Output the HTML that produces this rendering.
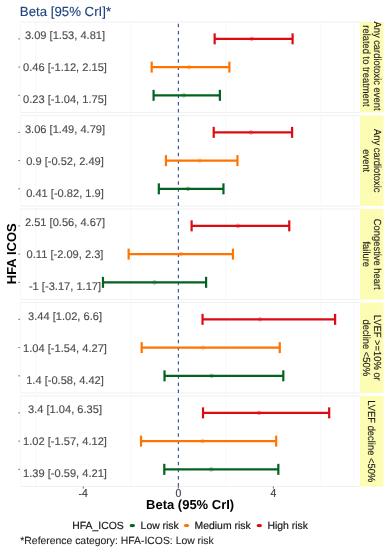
<!DOCTYPE html>
<html><head><meta charset="utf-8"><style>
html,body{margin:0;padding:0;background:#fff;}
body{width:389px;height:550px;overflow:hidden;position:relative;font-family:"Liberation Sans",Arial,sans-serif;}
svg{position:absolute;left:0;top:0;}
text{text-rendering:geometricPrecision;}
.lab{font-size:11.1px;fill:#4D4D4D;stroke:#4D4D4D;stroke-width:0.15px;}
.st{font-size:10.3px;fill:#1A1A1A;stroke:#1A1A1A;stroke-width:0.12px;}
.xl{font-size:10.5px;fill:#404040;stroke:#404040;stroke-width:0.15px;text-rendering:auto;}
.ttl{font-size:13.25px;fill:#20427F;stroke:#20427F;stroke-width:0.12px;}
.ax{font-size:13px;font-weight:bold;fill:#000;}
.fn{font-size:10.4px;fill:#1A1A1A;stroke:#1A1A1A;stroke-width:0.08px;}
.lg{font-size:10.4px;fill:#1A1A1A;stroke:#1A1A1A;stroke-width:0.2px;}
</style></head><body>
<svg width="389" height="550" viewBox="0 0 389 550">
<line x1="20.50" y1="22.00" x2="20.50" y2="112.50" stroke="#F7F7F7" stroke-width="0.9"/>
<line x1="35.74" y1="22.00" x2="35.74" y2="112.50" stroke="#F7F7F7" stroke-width="0.9"/>
<line x1="130.78" y1="22.00" x2="130.78" y2="112.50" stroke="#F7F7F7" stroke-width="0.9"/>
<line x1="225.82" y1="22.00" x2="225.82" y2="112.50" stroke="#F7F7F7" stroke-width="0.9"/>
<line x1="320.86" y1="22.00" x2="320.86" y2="112.50" stroke="#F7F7F7" stroke-width="0.9"/>
<line x1="353.80" y1="22.00" x2="353.80" y2="112.50" stroke="#F7F7F7" stroke-width="0.9"/>
<line x1="20.50" y1="22.00" x2="360.00" y2="22.00" stroke="#EFEFEF" stroke-width="0.9"/>
<line x1="20.50" y1="112.50" x2="360.00" y2="112.50" stroke="#EFEFEF" stroke-width="0.9"/>
<line x1="178.4" y1="112.50" x2="178.4" y2="22.00" stroke="#3A5B9B" stroke-width="1.2" stroke-dasharray="3.45 3.65"/>
<rect x="360.00" y="22.00" width="23.50" height="90.50" fill="#FCFCB2"/>
<text transform="translate(373.60,65.95) rotate(90) scale(0.91,1.0)" text-anchor="middle" class="st">Any cardiotoxic event</text>
<text transform="translate(362.90,65.95) rotate(90) scale(0.91,1.0)" text-anchor="middle" class="st">related to treatment</text>
<circle cx="251.72" cy="38.86" r="1.8" fill="none" stroke="#F27C7E" stroke-width="0.8"/>
<line x1="214.65" y1="38.86" x2="292.59" y2="38.86" stroke="#DE0A12" stroke-width="2.2"/>
<line x1="214.65" y1="33.36" x2="214.65" y2="44.36" stroke="#DE0A12" stroke-width="2.2"/>
<line x1="292.59" y1="33.36" x2="292.59" y2="44.36" stroke="#DE0A12" stroke-width="2.2"/>
<line x1="18.3" y1="38.86" x2="20" y2="38.86" stroke="#666" stroke-width="0.9"/>
<text transform="translate(65.00,39.15)" text-anchor="middle" class="lab">3.09 [1.53, 4.81]</text>
<circle cx="189.23" cy="67.10" r="1.8" fill="none" stroke="#FFB26B" stroke-width="0.8"/>
<line x1="151.69" y1="67.10" x2="229.38" y2="67.10" stroke="#FF7400" stroke-width="2.2"/>
<line x1="151.69" y1="61.60" x2="151.69" y2="72.60" stroke="#FF7400" stroke-width="2.2"/>
<line x1="229.38" y1="61.60" x2="229.38" y2="72.60" stroke="#FF7400" stroke-width="2.2"/>
<line x1="18.3" y1="67.10" x2="20" y2="67.10" stroke="#666" stroke-width="0.9"/>
<text transform="translate(65.00,71.35)" text-anchor="middle" class="lab">0.46 [-1.12, 2.15]</text>
<circle cx="183.76" cy="95.34" r="1.8" fill="none" stroke="#6FAE7C" stroke-width="0.8"/>
<line x1="153.59" y1="95.34" x2="219.88" y2="95.34" stroke="#03621F" stroke-width="2.2"/>
<line x1="153.59" y1="89.84" x2="153.59" y2="100.84" stroke="#03621F" stroke-width="2.2"/>
<line x1="219.88" y1="89.84" x2="219.88" y2="100.84" stroke="#03621F" stroke-width="2.2"/>
<line x1="18.3" y1="95.34" x2="20" y2="95.34" stroke="#666" stroke-width="0.9"/>
<text transform="translate(65.00,103.25)" text-anchor="middle" class="lab">0.23 [-1.04, 1.75]</text>
<line x1="20.50" y1="115.50" x2="20.50" y2="206.00" stroke="#F7F7F7" stroke-width="0.9"/>
<line x1="35.74" y1="115.50" x2="35.74" y2="206.00" stroke="#F7F7F7" stroke-width="0.9"/>
<line x1="130.78" y1="115.50" x2="130.78" y2="206.00" stroke="#F7F7F7" stroke-width="0.9"/>
<line x1="225.82" y1="115.50" x2="225.82" y2="206.00" stroke="#F7F7F7" stroke-width="0.9"/>
<line x1="320.86" y1="115.50" x2="320.86" y2="206.00" stroke="#F7F7F7" stroke-width="0.9"/>
<line x1="353.80" y1="115.50" x2="353.80" y2="206.00" stroke="#F7F7F7" stroke-width="0.9"/>
<line x1="20.50" y1="115.50" x2="360.00" y2="115.50" stroke="#EFEFEF" stroke-width="0.9"/>
<line x1="20.50" y1="206.00" x2="360.00" y2="206.00" stroke="#EFEFEF" stroke-width="0.9"/>
<line x1="178.4" y1="206.00" x2="178.4" y2="115.50" stroke="#3A5B9B" stroke-width="1.2" stroke-dasharray="3.45 3.65"/>
<rect x="360.00" y="115.50" width="23.50" height="90.50" fill="#FCFCB2"/>
<text transform="translate(373.60,160.75) rotate(90) scale(0.91,1.0)" text-anchor="middle" class="st">Any cardiotoxic</text>
<text transform="translate(362.90,160.75) rotate(90) scale(0.91,1.0)" text-anchor="middle" class="st">event</text>
<circle cx="251.01" cy="132.36" r="1.8" fill="none" stroke="#F27C7E" stroke-width="0.8"/>
<line x1="213.70" y1="132.36" x2="292.11" y2="132.36" stroke="#DE0A12" stroke-width="2.2"/>
<line x1="213.70" y1="126.86" x2="213.70" y2="137.86" stroke="#DE0A12" stroke-width="2.2"/>
<line x1="292.11" y1="126.86" x2="292.11" y2="137.86" stroke="#DE0A12" stroke-width="2.2"/>
<line x1="18.3" y1="132.36" x2="20" y2="132.36" stroke="#666" stroke-width="0.9"/>
<text transform="translate(65.00,132.65)" text-anchor="middle" class="lab">3.06 [1.49, 4.79]</text>
<circle cx="199.68" cy="160.60" r="1.8" fill="none" stroke="#FFB26B" stroke-width="0.8"/>
<line x1="165.94" y1="160.60" x2="237.46" y2="160.60" stroke="#FF7400" stroke-width="2.2"/>
<line x1="165.94" y1="155.10" x2="165.94" y2="166.10" stroke="#FF7400" stroke-width="2.2"/>
<line x1="237.46" y1="155.10" x2="237.46" y2="166.10" stroke="#FF7400" stroke-width="2.2"/>
<line x1="18.3" y1="160.60" x2="20" y2="160.60" stroke="#666" stroke-width="0.9"/>
<text transform="translate(65.00,164.85)" text-anchor="middle" class="lab">0.9 [-0.52, 2.49]</text>
<circle cx="188.04" cy="188.84" r="1.8" fill="none" stroke="#6FAE7C" stroke-width="0.8"/>
<line x1="158.82" y1="188.84" x2="223.44" y2="188.84" stroke="#03621F" stroke-width="2.2"/>
<line x1="158.82" y1="183.34" x2="158.82" y2="194.34" stroke="#03621F" stroke-width="2.2"/>
<line x1="223.44" y1="183.34" x2="223.44" y2="194.34" stroke="#03621F" stroke-width="2.2"/>
<line x1="18.3" y1="188.84" x2="20" y2="188.84" stroke="#666" stroke-width="0.9"/>
<text transform="translate(65.00,196.75)" text-anchor="middle" class="lab">0.41 [-0.82, 1.9]</text>
<line x1="20.50" y1="209.00" x2="20.50" y2="299.50" stroke="#F7F7F7" stroke-width="0.9"/>
<line x1="35.74" y1="209.00" x2="35.74" y2="299.50" stroke="#F7F7F7" stroke-width="0.9"/>
<line x1="130.78" y1="209.00" x2="130.78" y2="299.50" stroke="#F7F7F7" stroke-width="0.9"/>
<line x1="225.82" y1="209.00" x2="225.82" y2="299.50" stroke="#F7F7F7" stroke-width="0.9"/>
<line x1="320.86" y1="209.00" x2="320.86" y2="299.50" stroke="#F7F7F7" stroke-width="0.9"/>
<line x1="353.80" y1="209.00" x2="353.80" y2="299.50" stroke="#F7F7F7" stroke-width="0.9"/>
<line x1="20.50" y1="209.00" x2="360.00" y2="209.00" stroke="#EFEFEF" stroke-width="0.9"/>
<line x1="20.50" y1="299.50" x2="360.00" y2="299.50" stroke="#EFEFEF" stroke-width="0.9"/>
<line x1="178.4" y1="299.50" x2="178.4" y2="209.00" stroke="#3A5B9B" stroke-width="1.2" stroke-dasharray="3.45 3.65"/>
<rect x="360.00" y="209.00" width="23.50" height="90.50" fill="#FCFCB2"/>
<text transform="translate(373.60,254.25) rotate(90) scale(0.91,1.0)" text-anchor="middle" class="st">Congestive heart</text>
<text transform="translate(362.90,254.25) rotate(90) scale(0.91,1.0)" text-anchor="middle" class="st">failure</text>
<circle cx="237.94" cy="225.86" r="1.8" fill="none" stroke="#F27C7E" stroke-width="0.8"/>
<line x1="191.61" y1="225.86" x2="289.26" y2="225.86" stroke="#DE0A12" stroke-width="2.2"/>
<line x1="191.61" y1="220.36" x2="191.61" y2="231.36" stroke="#DE0A12" stroke-width="2.2"/>
<line x1="289.26" y1="220.36" x2="289.26" y2="231.36" stroke="#DE0A12" stroke-width="2.2"/>
<line x1="18.3" y1="225.86" x2="20" y2="225.86" stroke="#666" stroke-width="0.9"/>
<text transform="translate(65.00,226.15)" text-anchor="middle" class="lab">2.51 [0.56, 4.67]</text>
<circle cx="180.91" cy="254.10" r="1.8" fill="none" stroke="#FFB26B" stroke-width="0.8"/>
<line x1="128.64" y1="254.10" x2="232.95" y2="254.10" stroke="#FF7400" stroke-width="2.2"/>
<line x1="128.64" y1="248.60" x2="128.64" y2="259.60" stroke="#FF7400" stroke-width="2.2"/>
<line x1="232.95" y1="248.60" x2="232.95" y2="259.60" stroke="#FF7400" stroke-width="2.2"/>
<line x1="18.3" y1="254.10" x2="20" y2="254.10" stroke="#666" stroke-width="0.9"/>
<text transform="translate(65.00,258.35)" text-anchor="middle" class="lab">0.11 [-2.09, 2.3]</text>
<circle cx="154.54" cy="282.34" r="1.8" fill="none" stroke="#6FAE7C" stroke-width="0.8"/>
<line x1="102.98" y1="282.34" x2="206.10" y2="282.34" stroke="#03621F" stroke-width="2.2"/>
<line x1="102.98" y1="276.84" x2="102.98" y2="287.84" stroke="#03621F" stroke-width="2.2"/>
<line x1="206.10" y1="276.84" x2="206.10" y2="287.84" stroke="#03621F" stroke-width="2.2"/>
<line x1="18.3" y1="282.34" x2="20" y2="282.34" stroke="#666" stroke-width="0.9"/>
<text transform="translate(65.00,290.25)" text-anchor="middle" class="lab">-1 [-3.17, 1.17]</text>
<line x1="20.50" y1="302.50" x2="20.50" y2="393.00" stroke="#F7F7F7" stroke-width="0.9"/>
<line x1="35.74" y1="302.50" x2="35.74" y2="393.00" stroke="#F7F7F7" stroke-width="0.9"/>
<line x1="130.78" y1="302.50" x2="130.78" y2="393.00" stroke="#F7F7F7" stroke-width="0.9"/>
<line x1="225.82" y1="302.50" x2="225.82" y2="393.00" stroke="#F7F7F7" stroke-width="0.9"/>
<line x1="320.86" y1="302.50" x2="320.86" y2="393.00" stroke="#F7F7F7" stroke-width="0.9"/>
<line x1="353.80" y1="302.50" x2="353.80" y2="393.00" stroke="#F7F7F7" stroke-width="0.9"/>
<line x1="20.50" y1="302.50" x2="360.00" y2="302.50" stroke="#EFEFEF" stroke-width="0.9"/>
<line x1="20.50" y1="393.00" x2="360.00" y2="393.00" stroke="#EFEFEF" stroke-width="0.9"/>
<line x1="178.4" y1="393.00" x2="178.4" y2="302.50" stroke="#3A5B9B" stroke-width="1.2" stroke-dasharray="3.45 3.65"/>
<rect x="360.00" y="302.50" width="23.50" height="90.50" fill="#FCFCB2"/>
<text transform="translate(373.60,347.75) rotate(90) scale(0.91,1.0)" text-anchor="middle" class="st">LVEF &gt;=10% or</text>
<text transform="translate(362.90,347.75) rotate(90) scale(0.91,1.0)" text-anchor="middle" class="st">decline &lt;50%</text>
<circle cx="260.03" cy="319.36" r="1.8" fill="none" stroke="#F27C7E" stroke-width="0.8"/>
<line x1="202.54" y1="319.36" x2="335.12" y2="319.36" stroke="#DE0A12" stroke-width="2.2"/>
<line x1="202.54" y1="313.86" x2="202.54" y2="324.86" stroke="#DE0A12" stroke-width="2.2"/>
<line x1="335.12" y1="313.86" x2="335.12" y2="324.86" stroke="#DE0A12" stroke-width="2.2"/>
<line x1="18.3" y1="319.36" x2="20" y2="319.36" stroke="#666" stroke-width="0.9"/>
<text transform="translate(65.00,319.65)" text-anchor="middle" class="lab">3.44 [1.02, 6.6]</text>
<circle cx="203.01" cy="347.60" r="1.8" fill="none" stroke="#FFB26B" stroke-width="0.8"/>
<line x1="141.71" y1="347.60" x2="279.76" y2="347.60" stroke="#FF7400" stroke-width="2.2"/>
<line x1="141.71" y1="342.10" x2="141.71" y2="353.10" stroke="#FF7400" stroke-width="2.2"/>
<line x1="279.76" y1="342.10" x2="279.76" y2="353.10" stroke="#FF7400" stroke-width="2.2"/>
<line x1="18.3" y1="347.60" x2="20" y2="347.60" stroke="#666" stroke-width="0.9"/>
<text transform="translate(65.00,351.85)" text-anchor="middle" class="lab">1.04 [-1.54, 4.27]</text>
<circle cx="211.56" cy="375.84" r="1.8" fill="none" stroke="#6FAE7C" stroke-width="0.8"/>
<line x1="164.52" y1="375.84" x2="283.32" y2="375.84" stroke="#03621F" stroke-width="2.2"/>
<line x1="164.52" y1="370.34" x2="164.52" y2="381.34" stroke="#03621F" stroke-width="2.2"/>
<line x1="283.32" y1="370.34" x2="283.32" y2="381.34" stroke="#03621F" stroke-width="2.2"/>
<line x1="18.3" y1="375.84" x2="20" y2="375.84" stroke="#666" stroke-width="0.9"/>
<text transform="translate(65.00,383.75)" text-anchor="middle" class="lab">1.4 [-0.58, 4.42]</text>
<line x1="20.50" y1="396.00" x2="20.50" y2="486.50" stroke="#F7F7F7" stroke-width="0.9"/>
<line x1="35.74" y1="396.00" x2="35.74" y2="486.50" stroke="#F7F7F7" stroke-width="0.9"/>
<line x1="130.78" y1="396.00" x2="130.78" y2="486.50" stroke="#F7F7F7" stroke-width="0.9"/>
<line x1="225.82" y1="396.00" x2="225.82" y2="486.50" stroke="#F7F7F7" stroke-width="0.9"/>
<line x1="320.86" y1="396.00" x2="320.86" y2="486.50" stroke="#F7F7F7" stroke-width="0.9"/>
<line x1="353.80" y1="396.00" x2="353.80" y2="486.50" stroke="#F7F7F7" stroke-width="0.9"/>
<line x1="20.50" y1="396.00" x2="360.00" y2="396.00" stroke="#EFEFEF" stroke-width="0.9"/>
<line x1="20.50" y1="486.50" x2="360.00" y2="486.50" stroke="#EFEFEF" stroke-width="0.9"/>
<line x1="178.4" y1="486.50" x2="178.4" y2="396.00" stroke="#3A5B9B" stroke-width="1.2" stroke-dasharray="3.45 3.65"/>
<rect x="360.00" y="396.00" width="23.50" height="90.50" fill="#FCFCB2"/>
<text transform="translate(368.25,441.25) rotate(90) scale(0.91,1.0)" text-anchor="middle" class="st">LVEF decline &lt;50%</text>
<circle cx="259.08" cy="412.86" r="1.8" fill="none" stroke="#F27C7E" stroke-width="0.8"/>
<line x1="203.01" y1="412.86" x2="329.18" y2="412.86" stroke="#DE0A12" stroke-width="2.2"/>
<line x1="203.01" y1="407.36" x2="203.01" y2="418.36" stroke="#DE0A12" stroke-width="2.2"/>
<line x1="329.18" y1="407.36" x2="329.18" y2="418.36" stroke="#DE0A12" stroke-width="2.2"/>
<line x1="18.3" y1="412.86" x2="20" y2="412.86" stroke="#666" stroke-width="0.9"/>
<text transform="translate(65.00,413.15)" text-anchor="middle" class="lab">3.4 [1.04, 6.35]</text>
<circle cx="202.54" cy="441.10" r="1.8" fill="none" stroke="#FFB26B" stroke-width="0.8"/>
<line x1="141.00" y1="441.10" x2="276.19" y2="441.10" stroke="#FF7400" stroke-width="2.2"/>
<line x1="141.00" y1="435.60" x2="141.00" y2="446.60" stroke="#FF7400" stroke-width="2.2"/>
<line x1="276.19" y1="435.60" x2="276.19" y2="446.60" stroke="#FF7400" stroke-width="2.2"/>
<line x1="18.3" y1="441.10" x2="20" y2="441.10" stroke="#666" stroke-width="0.9"/>
<text transform="translate(65.00,445.35)" text-anchor="middle" class="lab">1.02 [-1.57, 4.12]</text>
<circle cx="211.33" cy="469.34" r="1.8" fill="none" stroke="#6FAE7C" stroke-width="0.8"/>
<line x1="164.28" y1="469.34" x2="278.33" y2="469.34" stroke="#03621F" stroke-width="2.2"/>
<line x1="164.28" y1="463.84" x2="164.28" y2="474.84" stroke="#03621F" stroke-width="2.2"/>
<line x1="278.33" y1="463.84" x2="278.33" y2="474.84" stroke="#03621F" stroke-width="2.2"/>
<line x1="18.3" y1="469.34" x2="20" y2="469.34" stroke="#666" stroke-width="0.9"/>
<text transform="translate(65.00,477.25)" text-anchor="middle" class="lab">1.39 [-0.59, 4.21]</text>
<line x1="83.26" y1="486.50" x2="83.26" y2="488.60" stroke="#555" stroke-width="0.9"/>
<text transform="translate(83.26,496.80)" text-anchor="middle" class="xl">-4</text>
<line x1="178.30" y1="486.50" x2="178.30" y2="488.60" stroke="#555" stroke-width="0.9"/>
<text transform="translate(178.30,496.80)" text-anchor="middle" class="xl">0</text>
<line x1="273.34" y1="486.50" x2="273.34" y2="488.60" stroke="#555" stroke-width="0.9"/>
<text transform="translate(273.34,496.80)" text-anchor="middle" class="xl">4</text>
<text transform="translate(19.80,16.30)" class="ttl">Beta [95% CrI]*</text>
<text transform="translate(16.20,253.80) rotate(-90)" text-anchor="middle" class="ax">HFA ICOS</text>
<text transform="translate(190.10,509.30)" text-anchor="middle" class="ax">Beta (95% CrI)</text>
<text transform="translate(72.30,529.30)" class="lg">HFA_ICOS</text>
<rect x="129.70" y="524.3" width="5.2" height="2.6" rx="1.3" fill="#03621F"/><circle cx="132.30" cy="525.6" r="1.7" fill="#03621F"/>
<text transform="translate(140.60,529.30)" class="lg">Low risk</text>
<rect x="183.90" y="524.3" width="5.2" height="2.6" rx="1.3" fill="#FF7400"/><circle cx="186.50" cy="525.6" r="1.7" fill="#FF7400"/>
<text transform="translate(194.60,529.30)" class="lg">Medium risk</text>
<rect x="256.70" y="524.3" width="5.2" height="2.6" rx="1.3" fill="#DE0A12"/><circle cx="259.30" cy="525.6" r="1.7" fill="#DE0A12"/>
<text transform="translate(267.50,529.30)" class="lg">High risk</text>
<text transform="translate(20.30,543.50)" class="fn">*Reference category: HFA-ICOS: Low risk</text>
</svg>
</body></html>
